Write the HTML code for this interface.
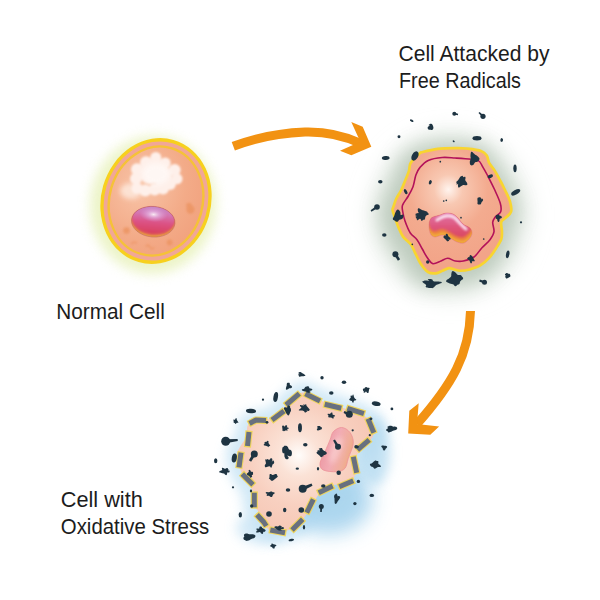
<!DOCTYPE html>
<html><head><meta charset="utf-8"><style>html,body{margin:0;padding:0;background:#fff;width:600px;height:600px;overflow:hidden}svg{display:block}</style></head>
<body><svg width="600" height="600" viewBox="0 0 600 600">
<defs>
<radialGradient id="ncGlow" cx="0.5" cy="0.5" r="0.5">
  <stop offset="0.7" stop-color="#eef4cf"/><stop offset="1" stop-color="#ffffff" stop-opacity="0"/>
</radialGradient>
<radialGradient id="ncIn" cx="0.3" cy="0.4" r="0.8">
  <stop offset="0" stop-color="#f8c4a8"/><stop offset="0.6" stop-color="#f3ab88"/><stop offset="1" stop-color="#f1a07c"/>
</radialGradient>
<linearGradient id="ncNuc" x1="0" y1="0" x2="0" y2="1">
  <stop offset="0" stop-color="#c090d0"/><stop offset="0.35" stop-color="#d478b4"/><stop offset="0.65" stop-color="#dc5284"/><stop offset="1" stop-color="#d8405e"/>
</linearGradient>
<radialGradient id="ncHi" cx="0.5" cy="0.5" r="0.5">
  <stop offset="0" stop-color="#ffffff" stop-opacity="0.85"/><stop offset="0.4" stop-color="#e8c0ec" stop-opacity="0.6"/><stop offset="1" stop-color="#d8a0e0" stop-opacity="0"/>
</radialGradient>
<radialGradient id="atIn" cx="0.47" cy="0.33" r="0.6">
  <stop offset="0" stop-color="#fff4ee"/><stop offset="0.2" stop-color="#f8c8b2"/><stop offset="0.55" stop-color="#f3ab8f"/><stop offset="1" stop-color="#f2a488"/>
</radialGradient>
<linearGradient id="atNuc" x1="0" y1="0" x2="0" y2="1">
  <stop offset="0" stop-color="#e6a0d2"/><stop offset="0.35" stop-color="#e06a9a"/><stop offset="0.7" stop-color="#de5478"/><stop offset="1" stop-color="#da4862"/>
</linearGradient>
<radialGradient id="stIn" cx="0.45" cy="0.45" r="0.6">
  <stop offset="0" stop-color="#fffdfb"/><stop offset="0.25" stop-color="#fbe2d6"/><stop offset="0.6" stop-color="#f8d0c0"/><stop offset="1" stop-color="#f6c6b4"/>
</radialGradient>
<linearGradient id="stNuc" x1="0" y1="0.3" x2="1" y2="0.7">
  <stop offset="0" stop-color="#ea94a0"/><stop offset="0.45" stop-color="#f2acb4"/><stop offset="0.75" stop-color="#f0ae9c"/><stop offset="1" stop-color="#f0a878"/>
</linearGradient>
<filter id="blur6" x="-50%" y="-50%" width="200%" height="200%"><feGaussianBlur stdDeviation="6"/></filter>
<filter id="blur12" x="-50%" y="-50%" width="200%" height="200%"><feGaussianBlur stdDeviation="12"/></filter>
<filter id="blur10" x="-50%" y="-50%" width="200%" height="200%"><feGaussianBlur stdDeviation="10"/></filter>
<filter id="blur3" x="-50%" y="-50%" width="200%" height="200%"><feGaussianBlur stdDeviation="2.5"/></filter>
<filter id="blur1" x="-50%" y="-50%" width="200%" height="200%"><feGaussianBlur stdDeviation="1"/></filter>
</defs>
<ellipse cx="153" cy="205" rx="63" ry="69" fill="#eaf3c2" filter="url(#blur6)" opacity="0.9" transform="rotate(5 153 205)"/>
<g transform="rotate(16 156 201)">
<ellipse cx="156" cy="201" rx="55" ry="63.5" fill="#f7d01e"/>
<ellipse cx="156" cy="201" rx="51.7" ry="60.2" fill="#f1a797"/>
<ellipse cx="156" cy="201" rx="46.6" ry="55.1" fill="url(#ncIn)" stroke="#f5c238" stroke-width="2.4"/>
</g>
<g fill="#ec9564" stroke="#ec9564" stroke-width="1.5" opacity="0.85" filter="url(#blur1)"><circle cx="190.5" cy="209.5" r="3.4"/><circle cx="189" cy="205.5" r="2"/><circle cx="126.5" cy="230.5" r="2.6"/><circle cx="169.7" cy="242.5" r="2.2"/><path d="M131,244 q3,-3 6,-1" fill="none"/><path d="M146,247 q2,-4 4,0 q2,4 4,0" fill="none"/></g>
<ellipse cx="131" cy="191" rx="11" ry="8" fill="#fde4d6" filter="url(#blur3)" opacity="0.95"/>
<g filter="url(#blur1)" fill="#fef0ea"><circle cx="155.8" cy="157.5" r="5.5"/><circle cx="165.2" cy="163" r="5.5"/><circle cx="174.7" cy="170" r="6"/><circle cx="177" cy="178.8" r="5.5"/><circle cx="170" cy="184" r="6"/><circle cx="163" cy="188.5" r="6"/><circle cx="154.7" cy="189.5" r="6"/><circle cx="145.3" cy="190.5" r="6"/><circle cx="137" cy="188.3" r="5.5"/><circle cx="136" cy="178.8" r="6"/><circle cx="137" cy="169.3" r="6"/><circle cx="146" cy="162.3" r="6"/><circle cx="150" cy="174" r="10"/><circle cx="162" cy="176" r="10"/><circle cx="156" cy="167" r="8"/></g>
<g fill="#ffffff" opacity="0.5" filter="url(#blur3)"><ellipse cx="156" cy="174" rx="14" ry="11"/></g>
<g transform="rotate(5 153.2 221.7)">
<clipPath id="ncClip"><ellipse cx="153.2" cy="221.7" rx="21.8" ry="15.3"/></clipPath>
<g clip-path="url(#ncClip)"><ellipse cx="153.2" cy="221.7" rx="21.8" ry="15.3" fill="#e8a440"/><ellipse cx="153.2" cy="219.6" rx="21.8" ry="15.3" fill="#de5a58" filter="url(#blur1)"/><ellipse cx="153.2" cy="218.2" rx="21.8" ry="15.3" fill="url(#ncNuc)" filter="url(#blur1)"/></g>
<ellipse cx="153.2" cy="221.7" rx="21.8" ry="15.3" fill="none" stroke="#b85a58" stroke-width="0.6" opacity="0.8"/>
<ellipse cx="153" cy="214.5" rx="14" ry="7.5" fill="url(#ncHi)"/>
</g>
<ellipse cx="450" cy="215" rx="76" ry="80" fill="#dfe7df" filter="url(#blur12)"/>
<path d="M418.8,152.8 C420.9,151.0 419.2,151.9 422.3,151.1 C425.4,150.3 432.1,148.6 437.5,147.9 C442.9,147.2 450.0,147.2 455.0,147.2 C460.0,147.1 463.1,147.1 467.5,147.6 C471.9,148.1 478.2,148.8 481.5,150.0 C484.8,151.2 485.9,152.6 487.3,154.6 C488.7,156.6 488.3,159.6 489.7,162.2 C491.1,164.8 493.6,167.2 495.5,170.3 C497.4,173.4 499.6,177.5 501.3,180.8 C503.1,184.1 504.4,186.9 506.0,190.2 C507.6,193.5 509.7,197.1 510.7,200.7 C511.7,204.3 512.8,208.8 512.0,211.7 C511.2,214.6 507.7,216.5 506.0,218.3 C504.3,220.1 502.6,220.1 502.0,222.3 C501.4,224.5 502.7,228.8 502.7,231.7 C502.7,234.6 503.0,236.8 502.0,239.7 C501.0,242.6 498.7,245.9 496.7,249.0 C494.7,252.1 492.7,255.4 490.0,258.3 C487.3,261.2 484.0,264.3 480.7,266.3 C477.4,268.3 473.3,269.4 470.0,270.3 C466.7,271.2 463.4,271.7 460.7,271.7 C458.0,271.7 455.9,270.8 454.0,270.3 C452.1,269.9 450.9,268.8 449.0,269.0 C447.1,269.2 444.5,270.8 442.3,271.7 C440.1,272.6 438.1,274.1 435.7,274.3 C433.3,274.5 430.4,274.8 427.7,273.0 C425.0,271.2 421.9,267.0 419.7,263.7 C417.5,260.4 415.9,256.1 414.3,253.0 C412.7,249.9 412.3,247.7 410.3,245.0 C408.3,242.3 404.4,239.9 402.3,237.0 C400.2,234.1 399.0,230.8 397.7,227.7 C396.4,224.6 395.3,221.2 394.3,218.3 C393.3,215.4 392.0,212.3 391.7,210.3 C391.4,208.3 392.0,208.5 392.6,206.5 C393.2,204.5 394.2,201.0 395.5,198.3 C396.8,195.6 398.8,192.9 400.2,190.2 C401.6,187.5 402.3,185.3 403.7,182.0 C405.1,178.7 407.2,173.6 408.3,170.3 C409.4,167.0 408.2,165.1 410.0,162.2 C411.8,159.3 416.8,154.7 418.8,152.8 Z" fill="#a6b8a6" stroke="#a6b8a6" stroke-width="18" stroke-linejoin="round" filter="url(#blur10)" opacity="0.6" transform="translate(-3 4)"/>
<path d="M418.8,152.8 C420.9,151.0 419.2,151.9 422.3,151.1 C425.4,150.3 432.1,148.6 437.5,147.9 C442.9,147.2 450.0,147.2 455.0,147.2 C460.0,147.1 463.1,147.1 467.5,147.6 C471.9,148.1 478.2,148.8 481.5,150.0 C484.8,151.2 485.9,152.6 487.3,154.6 C488.7,156.6 488.3,159.6 489.7,162.2 C491.1,164.8 493.6,167.2 495.5,170.3 C497.4,173.4 499.6,177.5 501.3,180.8 C503.1,184.1 504.4,186.9 506.0,190.2 C507.6,193.5 509.7,197.1 510.7,200.7 C511.7,204.3 512.8,208.8 512.0,211.7 C511.2,214.6 507.7,216.5 506.0,218.3 C504.3,220.1 502.6,220.1 502.0,222.3 C501.4,224.5 502.7,228.8 502.7,231.7 C502.7,234.6 503.0,236.8 502.0,239.7 C501.0,242.6 498.7,245.9 496.7,249.0 C494.7,252.1 492.7,255.4 490.0,258.3 C487.3,261.2 484.0,264.3 480.7,266.3 C477.4,268.3 473.3,269.4 470.0,270.3 C466.7,271.2 463.4,271.7 460.7,271.7 C458.0,271.7 455.9,270.8 454.0,270.3 C452.1,269.9 450.9,268.8 449.0,269.0 C447.1,269.2 444.5,270.8 442.3,271.7 C440.1,272.6 438.1,274.1 435.7,274.3 C433.3,274.5 430.4,274.8 427.7,273.0 C425.0,271.2 421.9,267.0 419.7,263.7 C417.5,260.4 415.9,256.1 414.3,253.0 C412.7,249.9 412.3,247.7 410.3,245.0 C408.3,242.3 404.4,239.9 402.3,237.0 C400.2,234.1 399.0,230.8 397.7,227.7 C396.4,224.6 395.3,221.2 394.3,218.3 C393.3,215.4 392.0,212.3 391.7,210.3 C391.4,208.3 392.0,208.5 392.6,206.5 C393.2,204.5 394.2,201.0 395.5,198.3 C396.8,195.6 398.8,192.9 400.2,190.2 C401.6,187.5 402.3,185.3 403.7,182.0 C405.1,178.7 407.2,173.6 408.3,170.3 C409.4,167.0 408.2,165.1 410.0,162.2 C411.8,159.3 416.8,154.7 418.8,152.8 Z" fill="url(#atIn)" stroke="#f8d530" stroke-width="2.7" transform="translate(452 211) scale(0.985) translate(-452 -211)"/>
<path d="M420.0,167.4 C422.1,165.0 424.5,162.1 428.2,160.4 C431.9,158.8 437.7,157.9 442.2,157.5 C446.7,157.1 451.2,157.8 455.0,158.0 C458.8,158.2 461.4,158.3 465.2,158.7 C469.0,159.1 475.1,159.1 478.0,160.4 C480.9,161.8 481.1,164.4 482.7,166.8 C484.2,169.2 485.4,171.3 487.3,175.0 C489.2,178.7 492.2,184.3 494.3,189.0 C496.4,193.7 499.1,199.2 500.2,203.0 C501.3,206.8 501.5,209.4 500.7,211.7 C499.9,214.0 496.6,215.2 495.3,217.0 C494.0,218.8 492.9,219.9 492.7,222.3 C492.5,224.8 494.4,228.8 494.0,231.7 C493.6,234.6 492.0,237.0 490.0,239.7 C488.0,242.4 484.7,244.8 482.0,247.7 C479.3,250.6 477.1,254.8 474.0,257.0 C470.9,259.2 466.4,260.3 463.3,261.0 C460.2,261.7 457.9,261.4 455.3,261.0 C452.7,260.6 450.1,258.3 447.7,258.3 C445.3,258.3 443.4,260.1 441.0,261.0 C438.6,261.9 435.2,264.1 433.0,263.7 C430.8,263.2 429.5,260.8 427.7,258.3 C425.9,255.9 424.1,252.1 422.3,249.0 C420.5,245.9 419.0,242.4 417.0,239.7 C415.0,237.0 412.3,236.1 410.3,233.0 C408.3,229.9 406.2,224.3 405.0,221.0 C403.8,217.7 403.4,215.6 403.0,213.0 C402.6,210.4 401.6,208.1 402.5,205.3 C403.4,202.5 406.6,199.1 408.3,196.0 C410.1,192.9 411.7,190.2 413.0,186.7 C414.3,183.2 414.7,178.2 415.9,175.0 C417.1,171.8 417.9,169.8 420.0,167.4 Z" fill="none" stroke="#b3125a" stroke-width="1.6"/>
<clipPath id="nucClip"><path d="M430.0,220.0 C430.7,218.5 431.3,217.8 433.0,217.0 C434.7,216.2 437.8,215.7 440.0,215.0 C442.2,214.3 443.8,213.2 446.0,213.0 C448.2,212.8 451.0,213.2 453.0,214.0 C455.0,214.8 456.3,216.3 458.0,218.0 C459.7,219.7 461.0,222.3 463.0,224.0 C465.0,225.7 468.5,226.5 470.0,228.0 C471.5,229.5 472.0,231.3 472.0,233.0 C472.0,234.7 471.3,236.3 470.0,238.0 C468.7,239.7 466.2,242.3 464.0,243.0 C461.8,243.7 459.3,242.8 457.0,242.0 C454.7,241.2 452.3,239.2 450.0,238.0 C447.7,236.8 445.5,235.2 443.0,235.0 C440.5,234.8 437.1,237.2 435.0,237.0 C432.9,236.8 431.5,235.8 430.5,234.0 C429.5,232.2 429.1,228.3 429.0,226.0 C428.9,223.7 429.3,221.5 430.0,220.0 Z"/></clipPath>
<g clip-path="url(#nucClip)"><path d="M430.0,220.0 C430.7,218.5 431.3,217.8 433.0,217.0 C434.7,216.2 437.8,215.7 440.0,215.0 C442.2,214.3 443.8,213.2 446.0,213.0 C448.2,212.8 451.0,213.2 453.0,214.0 C455.0,214.8 456.3,216.3 458.0,218.0 C459.7,219.7 461.0,222.3 463.0,224.0 C465.0,225.7 468.5,226.5 470.0,228.0 C471.5,229.5 472.0,231.3 472.0,233.0 C472.0,234.7 471.3,236.3 470.0,238.0 C468.7,239.7 466.2,242.3 464.0,243.0 C461.8,243.7 459.3,242.8 457.0,242.0 C454.7,241.2 452.3,239.2 450.0,238.0 C447.7,236.8 445.5,235.2 443.0,235.0 C440.5,234.8 437.1,237.2 435.0,237.0 C432.9,236.8 431.5,235.8 430.5,234.0 C429.5,232.2 429.1,228.3 429.0,226.0 C428.9,223.7 429.3,221.5 430.0,220.0 Z" fill="#f0a83a"/><path d="M430.0,220.0 C430.7,218.5 431.3,217.8 433.0,217.0 C434.7,216.2 437.8,215.7 440.0,215.0 C442.2,214.3 443.8,213.2 446.0,213.0 C448.2,212.8 451.0,213.2 453.0,214.0 C455.0,214.8 456.3,216.3 458.0,218.0 C459.7,219.7 461.0,222.3 463.0,224.0 C465.0,225.7 468.5,226.5 470.0,228.0 C471.5,229.5 472.0,231.3 472.0,233.0 C472.0,234.7 471.3,236.3 470.0,238.0 C468.7,239.7 466.2,242.3 464.0,243.0 C461.8,243.7 459.3,242.8 457.0,242.0 C454.7,241.2 452.3,239.2 450.0,238.0 C447.7,236.8 445.5,235.2 443.0,235.0 C440.5,234.8 437.1,237.2 435.0,237.0 C432.9,236.8 431.5,235.8 430.5,234.0 C429.5,232.2 429.1,228.3 429.0,226.0 C428.9,223.7 429.3,221.5 430.0,220.0 Z" fill="#ec8040" transform="translate(0 -3)" filter="url(#blur1)"/><path d="M430.0,220.0 C430.7,218.5 431.3,217.8 433.0,217.0 C434.7,216.2 437.8,215.7 440.0,215.0 C442.2,214.3 443.8,213.2 446.0,213.0 C448.2,212.8 451.0,213.2 453.0,214.0 C455.0,214.8 456.3,216.3 458.0,218.0 C459.7,219.7 461.0,222.3 463.0,224.0 C465.0,225.7 468.5,226.5 470.0,228.0 C471.5,229.5 472.0,231.3 472.0,233.0 C472.0,234.7 471.3,236.3 470.0,238.0 C468.7,239.7 466.2,242.3 464.0,243.0 C461.8,243.7 459.3,242.8 457.0,242.0 C454.7,241.2 452.3,239.2 450.0,238.0 C447.7,236.8 445.5,235.2 443.0,235.0 C440.5,234.8 437.1,237.2 435.0,237.0 C432.9,236.8 431.5,235.8 430.5,234.0 C429.5,232.2 429.1,228.3 429.0,226.0 C428.9,223.7 429.3,221.5 430.0,220.0 Z" fill="url(#atNuc)" transform="translate(-0.5 -6)" filter="url(#blur1)"/>
<path d="M437,220 C443,216 450,214.5 455,218 C459,222 462,226 466,229" fill="none" stroke="#fce8f4" stroke-width="3.2" stroke-linecap="round" filter="url(#blur1)" opacity="0.9"/></g>
<path d="M430.0,220.0 C430.7,218.5 431.3,217.8 433.0,217.0 C434.7,216.2 437.8,215.7 440.0,215.0 C442.2,214.3 443.8,213.2 446.0,213.0 C448.2,212.8 451.0,213.2 453.0,214.0 C455.0,214.8 456.3,216.3 458.0,218.0 C459.7,219.7 461.0,222.3 463.0,224.0 C465.0,225.7 468.5,226.5 470.0,228.0 C471.5,229.5 472.0,231.3 472.0,233.0 C472.0,234.7 471.3,236.3 470.0,238.0 C468.7,239.7 466.2,242.3 464.0,243.0 C461.8,243.7 459.3,242.8 457.0,242.0 C454.7,241.2 452.3,239.2 450.0,238.0 C447.7,236.8 445.5,235.2 443.0,235.0 C440.5,234.8 437.1,237.2 435.0,237.0 C432.9,236.8 431.5,235.8 430.5,234.0 C429.5,232.2 429.1,228.3 429.0,226.0 C428.9,223.7 429.3,221.5 430.0,220.0 Z" fill="none" stroke="#d85878" stroke-width="0.5" opacity="0.6"/>
<path d="M302.2,392.6 C306.9,391.9 311.1,397.0 316.3,399.0 C321.5,401.0 327.6,402.9 333.3,404.8 C339.0,406.7 345.1,408.5 350.3,410.4 C355.5,412.3 360.7,413.7 364.5,416.1 C368.3,418.5 371.6,421.3 373.0,424.6 C374.4,427.9 373.9,433.0 373.0,436.0 C372.1,439.0 370.1,439.3 367.3,442.8 C364.5,446.3 357.9,452.3 356.0,457.0 C354.1,461.7 356.9,466.9 356.0,471.2 C355.1,475.4 354.1,480.1 350.3,482.5 C346.5,484.9 338.0,483.9 333.3,485.3 C328.6,486.7 325.3,488.2 322.0,491.0 C318.7,493.8 316.3,498.1 313.5,502.3 C310.7,506.6 307.8,512.5 305.0,516.5 C302.2,520.5 300.8,523.8 296.5,526.4 C292.2,529.0 284.2,531.6 279.5,532.1 C274.8,532.6 271.0,531.9 268.2,529.3 C265.4,526.7 264.9,520.5 262.5,516.5 C260.1,512.5 255.7,509.4 254.0,505.2 C252.3,500.9 254.0,495.2 252.6,491.0 C251.2,486.8 247.6,483.5 245.5,479.7 C243.4,475.9 241.2,472.6 239.8,468.3 C238.4,464.1 236.5,458.4 237.0,454.2 C237.5,449.9 241.0,445.6 242.7,442.8 C244.4,440.0 246.1,440.3 247.0,437.3 C247.9,434.3 245.7,427.4 248.3,424.6 C250.9,421.8 257.8,421.7 262.5,420.3 C267.2,418.9 272.4,418.9 276.7,416.1 C280.9,413.3 283.8,407.2 288.0,403.3 C292.2,399.4 297.5,393.3 302.2,392.6 Z" fill="#bfe0f3" stroke="#bfe0f3" stroke-width="22" stroke-linejoin="round" filter="url(#blur6)" opacity="0.7"/>
<ellipse cx="328" cy="500" rx="44" ry="34" fill="#a8d4ee" filter="url(#blur10)" opacity="0.95"/>
<ellipse cx="374" cy="452" rx="16" ry="34" fill="#b4daf0" filter="url(#blur6)" opacity="0.8"/>
<ellipse cx="262" cy="528" rx="26" ry="16" fill="#c4e2f4" filter="url(#blur6)" opacity="0.7"/>
<path d="M302.2,392.6 C306.9,391.9 311.1,397.0 316.3,399.0 C321.5,401.0 327.6,402.9 333.3,404.8 C339.0,406.7 345.1,408.5 350.3,410.4 C355.5,412.3 360.7,413.7 364.5,416.1 C368.3,418.5 371.6,421.3 373.0,424.6 C374.4,427.9 373.9,433.0 373.0,436.0 C372.1,439.0 370.1,439.3 367.3,442.8 C364.5,446.3 357.9,452.3 356.0,457.0 C354.1,461.7 356.9,466.9 356.0,471.2 C355.1,475.4 354.1,480.1 350.3,482.5 C346.5,484.9 338.0,483.9 333.3,485.3 C328.6,486.7 325.3,488.2 322.0,491.0 C318.7,493.8 316.3,498.1 313.5,502.3 C310.7,506.6 307.8,512.5 305.0,516.5 C302.2,520.5 300.8,523.8 296.5,526.4 C292.2,529.0 284.2,531.6 279.5,532.1 C274.8,532.6 271.0,531.9 268.2,529.3 C265.4,526.7 264.9,520.5 262.5,516.5 C260.1,512.5 255.7,509.4 254.0,505.2 C252.3,500.9 254.0,495.2 252.6,491.0 C251.2,486.8 247.6,483.5 245.5,479.7 C243.4,475.9 241.2,472.6 239.8,468.3 C238.4,464.1 236.5,458.4 237.0,454.2 C237.5,449.9 241.0,445.6 242.7,442.8 C244.4,440.0 246.1,440.3 247.0,437.3 C247.9,434.3 245.7,427.4 248.3,424.6 C250.9,421.8 257.8,421.7 262.5,420.3 C267.2,418.9 272.4,418.9 276.7,416.1 C280.9,413.3 283.8,407.2 288.0,403.3 C292.2,399.4 297.5,393.3 302.2,392.6 Z" fill="url(#stIn)"/>
<path d="M333.3,431.7 C335.2,429.6 338.9,427.4 341.7,427.5 C344.5,427.6 348.1,429.9 350.0,432.5 C351.9,435.1 353.6,439.0 353.3,443.3 C353.0,447.6 349.7,454.1 348.3,458.3 C346.9,462.5 346.9,466.1 345.0,468.3 C343.1,470.5 340.3,471.4 336.7,471.7 C333.1,472.0 326.1,471.4 323.3,470.0 C320.5,468.6 319.7,466.4 320.0,463.3 C320.3,460.2 323.3,455.6 325.0,451.7 C326.7,447.8 328.6,443.3 330.0,440.0 C331.4,436.7 331.4,433.8 333.3,431.7 Z" fill="url(#stNuc)" stroke="#ec9098" stroke-width="0.8"/>
<ellipse cx="336" cy="450" rx="5" ry="14" fill="#fad0d0" opacity="0.7" filter="url(#blur3)" transform="rotate(20 336 450)"/>
<g fill="none" stroke="#eed45c" stroke-width="7.2" stroke-linejoin="round"><path d="M304.1,393.1 L321.2,401.6"/><path d="M323.4,404.0 L342.6,408.6"/><path d="M346.1,407.9 L365.1,414.0"/><path d="M367.5,417.6 L374.3,434.0"/><path d="M370.2,439.0 L356.5,450.6"/><path d="M353.0,455.4 L357.0,474.0"/><path d="M354.5,480.2 L338.1,487.2"/><path d="M333.9,485.4 L317.5,493.3"/><path d="M313.9,498.1 L306.1,513.9"/><path d="M303.6,518.4 L291.1,530.9"/><path d="M286.3,532.9 L269.0,529.8"/><path d="M267.0,527.1 L263.7,522.0 L256.1,513.7"/><path d="M254.3,508.6 L254.3,491.4"/><path d="M253.9,485.6 L241.4,473.1"/><path d="M238.8,468.6 L241.2,451.4"/><path d="M247.4,447.3 L249.1,430.7"/><path d="M248.4,424.1 L256.0,420.0 L267.3,420.6"/><path d="M271.0,420.8 L285.0,410.2"/><path d="M285.0,405.8 L300.3,392.9"/></g>
<g fill="none" stroke="#68707f" stroke-width="5" stroke-linejoin="round"><path d="M305.3,393.7 L320.0,401.0"/><path d="M324.7,404.3 L341.3,408.3"/><path d="M347.3,408.3 L363.9,413.6"/><path d="M368.0,418.8 L373.8,432.8"/><path d="M369.2,439.8 L357.5,449.8"/><path d="M353.3,456.7 L356.7,472.7"/><path d="M353.3,480.7 L339.3,486.7"/><path d="M332.7,486.0 L318.7,492.7"/><path d="M313.3,499.3 L306.7,512.7"/><path d="M302.7,519.3 L292.0,530.0"/><path d="M285.0,532.7 L270.3,530.0"/><path d="M266.3,526.0 L263.7,522.0 L257.0,514.7"/><path d="M254.3,507.3 L254.3,492.7"/><path d="M253.0,484.7 L242.3,474.0"/><path d="M239.0,467.3 L241.0,452.7"/><path d="M247.5,446.0 L249.0,432.0"/><path d="M249.5,423.5 L256.0,420.0 L266.0,420.5"/><path d="M272.0,420.0 L284.0,411.0"/><path d="M286.0,405.0 L299.3,393.7"/></g>
<g fill="#1e3442"><ellipse transform="translate(411.7 120.7) rotate(30)" rx="1.96" ry="1.01"/><path transform="translate(431 127) rotate(20)" d="M2.4,-0.4C2.9,0.4 2.7,0.3 2.6,1.0C2.5,1.7 2.6,2.0 2.1,2.4C1.6,2.8 1.2,2.5 0.5,2.7C-0.3,2.9 -0.5,3.3 -1.2,3.2C-1.9,3.2 -2.1,3.1 -2.5,2.5C-2.9,1.9 -3.1,1.6 -2.9,0.8C-2.8,0.1 -1.8,-0.3 -1.8,-0.8C-1.8,-1.3 -2.8,-0.8 -2.9,-1.2C-2.9,-1.6 -2.5,-2.1 -2.0,-2.5C-1.6,-3.0 -1.5,-3.1 -0.8,-3.2C-0.2,-3.2 -0.2,-3.2 0.6,-2.6C1.4,-1.9 2.0,-1.3 2.4,-0.4Z"/><ellipse transform="translate(399 136.7) rotate(0)" rx="1.46" ry="1.46"/><ellipse transform="translate(385.7 158) rotate(-5)" rx="3.92" ry="1.96"/><ellipse transform="translate(415 156) rotate(30)" rx="3.08" ry="5.04"/><ellipse transform="translate(440.3 161.7) rotate(0)" rx="0.84" ry="0.84"/><circle cx="454.3" cy="113.7" r="2"/><path d="M454.1,114.6 L457.9,115.2 L458.1,113.8 L454.5,112.8Z"/><circle cx="483" cy="116.3" r="2.6"/><path d="M483.8,115.5 L479.5,112.0 L478.5,113.0 L482.2,117.1Z"/><ellipse transform="translate(477 138.3) rotate(0)" rx="4.48" ry="2.24"/><ellipse transform="translate(453.7 141.3) rotate(40)" rx="1.12" ry="0.84"/><ellipse transform="translate(501.7 140) rotate(10)" rx="1.34" ry="1.90"/><path transform="translate(473.7 159) rotate(0)" d="M3.9,-2.8C4.7,-1.9 5.7,-1.5 5.8,-0.2C5.8,1.1 5.1,1.8 4.1,2.6C3.0,3.4 2.6,2.5 1.5,3.3C0.4,4.1 0.4,5.4 -0.6,6.1C-1.7,6.7 -2.3,6.8 -3.1,6.1C-3.8,5.4 -3.9,4.5 -3.9,3.0C-3.9,1.5 -3.2,1.2 -3.0,-0.3C-2.8,-1.9 -3.4,-2.0 -3.2,-3.6C-3.0,-5.2 -3.1,-6.7 -2.3,-7.2C-1.5,-7.6 -0.9,-6.3 0.2,-5.6C1.2,-4.8 1.2,-4.6 2.1,-4.0C3.0,-3.3 3.0,-3.7 3.9,-2.8Z"/><ellipse transform="translate(380.3 181.7) rotate(0)" rx="2.24" ry="1.68"/><ellipse transform="translate(430.3 182.3) rotate(20)" rx="1.40" ry="2.24"/><ellipse transform="translate(405.7 191.7) rotate(-30)" rx="1.40" ry="2.80"/><circle cx="377" cy="207" r="2.8"/><path d="M376.3,206.0 L370.6,210.3 L371.4,211.7 L377.7,208.0Z"/><path transform="translate(397.7 216.3) rotate(30)" d="M4.0,-4.2C4.7,-4.1 4.9,-3.1 5.2,-2.0C5.4,-1.0 5.4,-0.7 4.9,0.2C4.5,1.2 3.8,1.0 3.2,2.1C2.6,3.2 3.2,4.1 2.4,4.8C1.6,5.6 1.0,5.3 -0.3,5.2C-1.5,5.2 -2.2,5.6 -2.9,4.7C-3.6,3.8 -2.9,3.2 -3.2,1.5C-3.4,-0.2 -3.9,-0.9 -3.9,-2.6C-4.0,-4.3 -4.2,-5.3 -3.3,-5.9C-2.4,-6.5 -1.3,-5.9 -0.1,-5.1C1.2,-4.4 1.0,-2.9 1.9,-2.7C2.9,-2.5 3.2,-4.4 4.0,-4.2Z"/><path transform="translate(421.7 215) rotate(-20)" d="M6.2,-1.3C7.1,-0.3 6.2,-0.6 6.3,0.2C6.5,0.9 7.5,1.3 6.9,1.8C6.2,2.3 4.8,1.5 3.6,2.3C2.3,3.0 2.4,4.4 1.5,5.0C0.7,5.7 0.7,5.0 -0.2,5.1C-1.0,5.3 -1.5,6.1 -2.1,5.6C-2.7,5.1 -1.9,3.5 -2.8,3.0C-3.6,2.5 -5.1,3.8 -5.8,3.5C-6.6,3.3 -5.9,2.6 -6.0,1.8C-6.2,1.1 -6.7,1.1 -6.4,0.4C-6.2,-0.3 -4.8,-0.9 -4.9,-1.2C-5.0,-1.4 -6.6,-0.4 -6.8,-0.6C-7.0,-0.7 -6.0,-1.2 -5.6,-1.9C-5.3,-2.5 -6.0,-3.1 -5.2,-3.3C-4.4,-3.6 -2.9,-2.6 -2.2,-2.9C-1.5,-3.2 -2.6,-3.4 -2.3,-4.5C-2.1,-5.5 -2.0,-7.0 -1.2,-7.3C-0.4,-7.7 0.1,-6.6 1.0,-5.8C1.9,-5.0 1.3,-5.0 2.6,-4.0C3.8,-2.9 5.4,-2.3 6.2,-1.3Z"/><ellipse transform="translate(443.7 201) rotate(0)" rx="0.84" ry="0.84"/><path transform="translate(461.7 181.7) rotate(30)" d="M5.0,-1.8C5.9,-1.1 6.3,-0.9 6.3,-0.2C6.2,0.5 5.5,0.8 4.7,1.3C3.9,1.9 3.7,1.4 2.9,2.2C2.2,3.0 2.1,3.8 1.5,4.8C0.9,5.9 0.9,6.5 0.3,6.6C-0.3,6.8 -0.5,6.2 -1.1,5.5C-1.7,4.8 -1.7,3.7 -2.1,3.6C-2.5,3.5 -2.4,5.0 -2.7,5.1C-3.1,5.1 -3.2,4.4 -3.6,3.8C-4.1,3.2 -4.6,3.4 -4.6,2.7C-4.7,1.9 -4.1,1.8 -3.9,0.5C-3.7,-0.7 -3.8,-1.7 -3.7,-2.9C-3.5,-4.1 -3.6,-3.9 -3.2,-4.5C-2.8,-5.1 -2.8,-5.5 -2.1,-5.5C-1.3,-5.4 -0.5,-4.4 -0.2,-4.3C0.1,-4.2 -1.0,-4.5 -0.8,-4.9C-0.7,-5.3 -0.1,-6.0 0.5,-6.0C1.1,-6.0 1.2,-5.5 1.6,-4.8C2.1,-4.1 1.6,-3.8 2.4,-3.1C3.2,-2.4 4.1,-2.4 5.0,-1.8Z"/><ellipse transform="translate(490.3 176.3) rotate(-20)" rx="2.80" ry="1.68"/><ellipse transform="translate(515 168.3) rotate(0)" rx="1.68" ry="3.92"/><path transform="translate(479.7 201) rotate(0)" d="M2.0,-2.6C2.3,-2.6 3.1,-2.2 3.3,-1.6C3.6,-1.0 3.3,-0.7 2.9,0.0C2.6,0.7 2.4,0.5 1.9,1.3C1.5,2.0 1.6,2.7 1.0,3.2C0.4,3.7 0.2,3.6 -0.6,3.5C-1.3,3.4 -1.7,3.6 -2.1,2.9C-2.5,2.3 -2.1,2.1 -2.1,0.8C-2.1,-0.5 -2.5,-1.7 -2.2,-2.7C-1.9,-3.8 -1.5,-3.5 -0.8,-3.6C-0.1,-3.7 0.3,-3.8 0.9,-3.4C1.4,-2.9 1.5,-1.8 1.7,-1.6C2.0,-1.4 1.6,-2.6 2.0,-2.6Z"/><ellipse transform="translate(515.7 192.3) rotate(-30)" rx="5.04" ry="2.24"/><path transform="translate(498.3 217.7) rotate(0)" d="M2.5,-1.7C3.1,-1.3 3.5,-1.2 3.6,-0.7C3.7,-0.2 3.4,0.2 2.9,0.6C2.3,1.1 1.8,0.6 1.4,1.2C1.0,1.9 1.4,2.7 1.1,3.4C0.8,4.1 0.6,4.5 0.1,4.4C-0.3,4.3 -0.5,3.8 -0.8,3.1C-1.1,2.4 -0.8,2.1 -1.2,1.5C-1.6,1.0 -2.1,1.2 -2.5,0.7C-2.8,0.3 -2.4,0.2 -2.5,-0.3C-2.5,-0.8 -3.0,-1.1 -2.7,-1.6C-2.5,-2.0 -1.7,-1.8 -1.4,-2.1C-1.1,-2.5 -1.6,-2.8 -1.4,-3.0C-1.2,-3.2 -0.9,-2.9 -0.4,-3.0C0.0,-3.1 0.1,-3.7 0.5,-3.5C0.9,-3.3 0.8,-2.6 1.3,-2.2C1.7,-1.7 2.0,-2.0 2.5,-1.7Z"/><ellipse transform="translate(446.3 200.3) rotate(0)" rx="0.84" ry="0.84"/><ellipse transform="translate(461 217.7) rotate(0)" rx="0.84" ry="0.84"/><ellipse transform="translate(521 222.3) rotate(0)" rx="1.12" ry="1.12"/><ellipse transform="translate(384.3 235) rotate(0)" rx="2.24" ry="1.68"/><circle cx="395.4" cy="254.3" r="3"/><path d="M394.3,255.0 L397.9,260.7 L400.1,259.3 L396.5,253.6Z"/><ellipse transform="translate(412.3 244.3) rotate(0)" rx="0.84" ry="0.84"/><ellipse transform="translate(427.7 262) rotate(0)" rx="1.68" ry="1.68"/><path transform="translate(431 283.7) rotate(0)" d="M7.7,-2.2C9.6,-2.0 10.7,-1.9 10.8,-1.3C10.8,-0.7 9.3,-0.4 8.0,0.2C6.7,0.8 6.6,0.3 5.2,1.2C3.9,2.1 3.4,3.4 2.2,4.1C1.0,4.8 1.1,4.2 0.0,4.2C-1.0,4.2 -1.3,4.5 -2.2,4.2C-3.1,3.9 -4.0,2.8 -3.8,2.8C-3.6,2.8 -1.5,3.7 -1.5,4.0C-1.5,4.3 -2.9,4.2 -3.8,3.9C-4.7,3.7 -5.1,3.7 -5.4,3.1C-5.7,2.5 -4.3,2.4 -5.0,1.3C-5.7,0.2 -7.9,-0.6 -8.5,-1.6C-9.0,-2.6 -8.3,-2.4 -7.4,-2.8C-6.6,-3.2 -6.2,-3.2 -4.9,-3.2C-3.6,-3.3 -2.2,-2.7 -1.8,-2.9C-1.4,-3.1 -3.4,-3.8 -3.2,-4.2C-3.0,-4.6 -2.0,-4.7 -1.0,-4.7C0.1,-4.6 0.5,-4.6 1.3,-4.1C2.1,-3.6 1.1,-2.9 2.6,-2.4C4.1,-2.0 5.8,-2.5 7.7,-2.2Z"/><path transform="translate(447 237.7) rotate(0)" d="M3.1,0.0C3.6,0.7 3.8,0.9 3.6,1.3C3.5,1.8 3.2,2.0 2.5,2.1C1.9,2.2 0.9,1.7 0.9,1.9C0.8,2.0 2.1,2.5 2.2,2.9C2.3,3.3 1.7,3.5 1.1,3.6C0.6,3.7 0.4,3.8 -0.1,3.4C-0.6,3.1 -0.4,2.9 -1.1,2.1C-1.8,1.4 -2.7,0.9 -3.3,0.1C-3.8,-0.6 -3.5,-0.5 -3.4,-1.1C-3.3,-1.6 -3.3,-1.9 -2.8,-2.1C-2.3,-2.4 -1.5,-1.9 -1.1,-2.2C-0.8,-2.5 -1.5,-2.9 -1.3,-3.3C-1.0,-3.7 -0.6,-4.0 -0.1,-3.9C0.4,-3.8 0.6,-3.4 0.9,-2.8C1.3,-2.2 0.9,-2.1 1.4,-1.4C1.9,-0.8 2.5,-0.6 3.1,0.0Z"/><path transform="translate(471 259) rotate(0)" d="M3.1,0.5C3.5,1.4 4.0,1.6 3.8,2.0C3.5,2.4 2.7,2.1 1.9,2.2C1.2,2.3 0.9,2.1 0.7,2.3C0.5,2.5 1.3,2.5 1.1,3.0C1.0,3.5 0.6,4.4 0.1,4.5C-0.4,4.5 -0.7,3.7 -1.0,3.0C-1.4,2.3 -1.0,2.1 -1.5,1.5C-1.9,1.0 -2.5,1.1 -3.0,0.6C-3.6,0.1 -3.8,-0.0 -3.8,-0.5C-3.8,-1.1 -3.5,-1.2 -2.9,-1.6C-2.4,-1.9 -1.9,-1.7 -1.6,-2.1C-1.2,-2.5 -1.7,-2.8 -1.3,-3.3C-1.0,-3.7 -0.7,-4.1 -0.2,-4.0C0.4,-3.9 0.4,-3.3 0.9,-2.9C1.4,-2.4 1.3,-2.7 1.8,-2.0C2.3,-1.2 2.6,-0.5 3.1,0.5Z"/><path transform="translate(455.5 279.2) rotate(-30)" d="M6.3,-1.1C7.0,-0.3 6.8,-0.1 6.9,1.0C7.0,2.0 7.7,2.7 6.8,3.4C6.0,4.1 4.6,3.5 3.2,4.1C1.9,4.7 2.2,5.5 1.2,5.9C0.2,6.4 0.1,5.8 -1.1,5.9C-2.2,5.9 -2.8,6.7 -3.7,6.0C-4.5,5.4 -3.9,4.6 -4.8,3.2C-5.8,1.7 -6.8,1.3 -7.7,-0.2C-8.7,-1.7 -9.7,-2.4 -9.0,-3.2C-8.4,-4.1 -6.5,-3.6 -4.9,-3.9C-3.3,-4.3 -3.1,-4.2 -2.3,-4.7C-1.4,-5.2 -2.2,-5.2 -1.4,-6.1C-0.5,-7.0 0.2,-8.6 1.3,-8.5C2.4,-8.5 2.7,-7.1 3.3,-5.8C3.9,-4.4 3.3,-3.8 4.0,-2.8C4.7,-1.7 5.7,-2.0 6.3,-1.1Z"/><circle cx="484.5" cy="282.3" r="2.5"/><path d="M484.9,281.2 L479.8,279.6 L479.2,281.4 L484.1,283.4Z"/><ellipse transform="translate(507.7 254.3) rotate(10)" rx="1.68" ry="3.92"/><path transform="translate(507.7 275.7) rotate(0)" d="M2.1,-1.8C2.5,-1.5 2.3,-1.2 2.5,-0.6C2.6,-0.1 2.9,0.1 2.7,0.6C2.5,1.1 2.4,1.0 1.5,1.6C0.7,2.1 -0.1,2.8 -0.9,2.9C-1.7,3.0 -1.7,2.6 -2.0,2.1C-2.4,1.7 -2.4,1.5 -2.4,0.9C-2.5,0.3 -2.1,-0.0 -2.1,-0.5C-2.2,-1.0 -2.8,-0.7 -2.8,-1.1C-2.7,-1.5 -2.4,-1.8 -1.9,-2.1C-1.4,-2.5 -1.3,-2.6 -0.7,-2.6C-0.1,-2.5 -0.0,-2.1 0.6,-1.9C1.3,-1.8 1.6,-2.1 2.1,-1.8Z"/><ellipse transform="translate(483.7 239) rotate(0)" rx="0.84" ry="0.84"/><ellipse transform="translate(275.7 397) rotate(10)" rx="2.24" ry="5.04"/><ellipse transform="translate(263 399.7) rotate(0)" rx="1.12" ry="1.12"/><ellipse transform="translate(251 411) rotate(5)" rx="5.04" ry="2.24"/><path transform="translate(235.7 421) rotate(0)" d="M2.0,0.3C2.4,0.9 2.8,1.2 2.7,1.5C2.7,1.8 2.1,1.6 1.6,1.7C1.2,1.8 1.2,1.7 0.9,1.9C0.6,2.1 0.7,2.3 0.4,2.5C0.2,2.8 0.1,3.0 -0.1,3.0C-0.4,3.0 -0.5,2.8 -0.7,2.5C-0.9,2.2 -0.9,1.8 -1.1,1.7C-1.3,1.6 -1.3,2.1 -1.5,2.0C-1.7,2.0 -1.8,1.8 -2.0,1.5C-2.1,1.2 -2.2,1.2 -2.2,0.8C-2.1,0.4 -1.8,0.0 -1.7,-0.2C-1.7,-0.4 -1.8,0.1 -2.0,-0.1C-2.1,-0.2 -2.4,-0.6 -2.4,-0.9C-2.3,-1.2 -2.3,-1.4 -1.9,-1.5C-1.5,-1.6 -1.2,-1.1 -0.8,-1.3C-0.4,-1.6 -0.4,-2.3 -0.1,-2.6C0.2,-2.8 0.2,-2.5 0.5,-2.5C0.7,-2.5 1.0,-2.8 1.1,-2.5C1.3,-2.2 0.9,-1.9 1.1,-1.2C1.3,-0.5 1.6,-0.3 2.0,0.3Z"/><ellipse transform="translate(267 422.3) rotate(0)" rx="1.40" ry="1.40"/><path transform="translate(301.3 374.6) rotate(0)" d="M3.0,-0.2C3.8,0.3 4.3,0.6 4.2,1.0C4.0,1.4 3.2,1.4 2.3,1.6C1.4,1.8 1.4,1.6 0.5,1.7C-0.5,1.8 -1.2,2.2 -1.9,2.1C-2.6,1.9 -2.2,1.5 -2.5,1.0C-2.8,0.6 -3.4,0.6 -3.2,0.2C-3.1,-0.2 -1.9,-0.3 -1.8,-0.6C-1.8,-1.0 -3.0,-0.9 -3.1,-1.3C-3.2,-1.7 -2.8,-2.1 -2.1,-2.3C-1.5,-2.6 -1.1,-2.5 -0.3,-2.3C0.4,-2.1 0.3,-1.8 1.1,-1.3C1.9,-0.9 2.3,-0.8 3.0,-0.2Z"/><ellipse transform="translate(322 377.7) rotate(0)" rx="1.68" ry="1.68"/><ellipse transform="translate(344 382.3) rotate(0)" rx="2.24" ry="1.68"/><path transform="translate(288.7 386.3) rotate(0)" d="M2.4,-0.8C2.9,-0.3 3.5,0.2 3.4,0.8C3.3,1.5 2.7,1.7 2.1,1.9C1.4,2.2 1.2,1.7 0.5,1.9C-0.1,2.1 -0.0,2.6 -0.8,2.9C-1.5,3.2 -2.1,3.6 -2.6,3.2C-3.0,2.8 -2.8,2.0 -2.6,1.1C-2.5,0.3 -2.3,0.4 -2.0,-0.6C-1.8,-1.6 -2.1,-2.3 -1.7,-3.0C-1.3,-3.7 -1.0,-3.5 -0.4,-3.6C0.2,-3.6 0.5,-3.8 0.9,-3.2C1.3,-2.7 0.9,-1.8 1.3,-1.2C1.6,-0.6 1.9,-1.2 2.4,-0.8Z"/><path transform="translate(307.3 389.7) rotate(0)" d="M4.7,-0.8C5.3,-0.5 5.0,-0.3 4.9,0.1C4.8,0.5 4.8,0.6 4.1,0.9C3.4,1.2 2.3,1.0 2.1,1.2C1.9,1.5 3.2,1.6 3.2,2.0C3.2,2.5 2.9,3.0 2.2,3.1C1.5,3.3 1.0,3.1 0.1,2.8C-0.7,2.5 -0.7,2.2 -1.5,1.9C-2.4,1.6 -2.7,1.7 -3.5,1.5C-4.3,1.3 -4.6,1.3 -5.0,0.9C-5.4,0.5 -5.7,0.3 -5.3,-0.1C-4.9,-0.5 -4.0,-0.3 -3.2,-0.9C-2.4,-1.5 -2.7,-2.1 -2.0,-2.6C-1.3,-3.2 -1.2,-3.2 -0.3,-3.3C0.5,-3.4 1.0,-3.4 1.6,-2.9C2.2,-2.5 1.5,-1.9 2.2,-1.4C3.0,-0.9 4.1,-1.2 4.7,-0.8Z"/><ellipse transform="translate(331.3 393) rotate(0)" rx="2.24" ry="1.68"/><path transform="translate(352.7 399) rotate(0)" d="M2.4,-0.3C3.0,0.3 3.6,0.4 3.6,0.8C3.6,1.2 3.0,1.2 2.5,1.5C2.0,1.7 1.8,1.5 1.4,1.8C1.1,2.1 1.2,2.2 0.9,2.7C0.7,3.2 0.7,3.8 0.4,3.9C0.0,4.0 -0.1,3.4 -0.4,3.0C-0.7,2.6 -0.4,2.4 -1.0,2.0C-1.5,1.6 -2.1,1.7 -2.6,1.4C-3.2,1.0 -3.5,1.0 -3.5,0.5C-3.5,0.1 -3.1,-0.1 -2.7,-0.5C-2.4,-0.9 -2.2,-1.0 -2.0,-1.3C-1.8,-1.6 -2.1,-1.5 -2.1,-1.9C-2.1,-2.4 -2.2,-2.9 -2.0,-3.2C-1.7,-3.5 -1.5,-3.4 -1.0,-3.2C-0.5,-3.0 -0.1,-2.5 -0.0,-2.5C0.1,-2.4 -0.5,-2.5 -0.4,-2.9C-0.4,-3.4 0.0,-4.3 0.4,-4.4C0.7,-4.5 0.8,-3.8 1.0,-3.2C1.3,-2.6 1.0,-2.5 1.4,-1.8C1.7,-1.2 1.9,-0.9 2.4,-0.3Z"/><path transform="translate(288 410.3) rotate(0)" d="M2.9,-2.3C3.0,-2.1 2.9,-1.4 2.9,-0.8C2.9,-0.1 3.1,-0.0 3.0,0.6C2.8,1.2 2.6,1.1 2.2,1.9C1.8,2.8 1.8,3.6 1.3,4.3C0.8,5.1 0.6,5.2 0.1,5.1C-0.4,5.0 -0.5,4.5 -1.0,3.9C-1.4,3.3 -1.3,3.5 -1.9,2.6C-2.4,1.7 -2.6,1.0 -3.2,-0.1C-3.7,-1.1 -4.2,-1.3 -4.1,-2.1C-4.0,-2.8 -3.5,-2.9 -2.8,-3.1C-2.0,-3.3 -1.6,-2.6 -1.0,-2.9C-0.4,-3.2 -0.7,-4.0 -0.3,-4.4C0.2,-4.9 0.4,-4.9 0.9,-4.8C1.5,-4.7 1.7,-4.7 2.0,-4.0C2.4,-3.3 2.1,-2.1 2.2,-1.7C2.4,-1.4 2.7,-2.5 2.9,-2.3Z"/><path transform="translate(304.7 408.3) rotate(0)" d="M4.6,0.6C5.3,1.6 5.0,1.3 4.9,1.8C4.7,2.3 4.6,2.5 3.9,2.7C3.2,2.9 2.0,2.4 1.8,2.6C1.6,2.7 3.0,3.1 3.0,3.3C3.0,3.5 2.2,3.4 1.6,3.6C1.0,3.8 0.9,4.4 0.3,4.2C-0.3,4.0 -0.2,3.2 -1.1,2.8C-2.0,2.3 -2.4,2.4 -3.6,2.2C-4.7,2.0 -5.6,2.3 -5.9,1.9C-6.1,1.5 -5.2,1.0 -4.6,0.4C-4.0,-0.2 -3.5,-0.1 -3.4,-0.6C-3.3,-1.1 -4.0,-1.1 -4.3,-1.7C-4.6,-2.3 -5.0,-3.0 -4.5,-3.3C-4.1,-3.6 -3.3,-3.2 -2.4,-3.1C-1.5,-3.0 -0.9,-2.6 -0.7,-2.8C-0.5,-2.9 -1.6,-3.7 -1.5,-3.9C-1.4,-4.1 -0.7,-3.4 -0.1,-3.5C0.6,-3.5 0.9,-4.3 1.4,-4.0C1.9,-3.8 1.3,-3.3 2.0,-2.3C2.8,-1.2 3.9,-0.3 4.6,0.6Z"/><path transform="translate(331.3 415.7) rotate(0)" d="M3.5,-0.7C3.9,-0.4 3.3,-0.3 3.3,0.1C3.3,0.5 3.6,0.6 3.3,0.9C3.0,1.2 2.1,1.0 1.9,1.3C1.7,1.5 2.5,1.5 2.5,1.9C2.6,2.3 2.5,2.6 2.1,2.8C1.7,2.9 1.4,2.8 0.9,2.6C0.4,2.4 0.7,2.2 -0.2,1.9C-1.0,1.6 -2.1,1.7 -2.8,1.5C-3.4,1.2 -2.8,1.1 -2.9,0.7C-3.0,0.4 -3.3,0.4 -3.2,0.0C-3.1,-0.3 -2.5,-0.5 -2.5,-0.7C-2.5,-0.9 -2.9,-0.4 -3.2,-0.7C-3.5,-0.9 -3.9,-1.5 -3.6,-1.8C-3.4,-2.0 -2.7,-1.8 -2.1,-1.8C-1.5,-1.9 -1.4,-1.9 -1.1,-2.0C-0.7,-2.2 -1.0,-2.3 -0.7,-2.5C-0.4,-2.8 -0.2,-3.2 0.2,-3.2C0.7,-3.3 0.9,-3.2 1.2,-2.8C1.4,-2.4 0.8,-1.8 1.3,-1.3C1.8,-0.8 3.0,-1.0 3.5,-0.7Z"/><circle cx="349.3" cy="414.3" r="3.5"/><path d="M349.9,412.9 L344.4,411.0 L343.6,413.0 L348.7,415.7Z"/><ellipse transform="translate(300 427.7) rotate(0)" rx="1.96" ry="4.48"/><path transform="translate(319.3 428.3) rotate(0)" d="M1.9,-1.4C2.1,-1.2 2.5,-1.0 2.6,-0.6C2.8,-0.2 2.7,-0.1 2.5,0.4C2.3,0.8 2.3,0.9 1.6,1.3C0.9,1.6 0.3,1.8 -0.5,2.0C-1.3,2.2 -1.5,2.3 -2.0,2.0C-2.4,1.8 -2.5,1.5 -2.4,0.9C-2.4,0.4 -1.8,0.5 -1.7,-0.2C-1.6,-0.8 -2.2,-1.3 -2.0,-1.8C-1.8,-2.3 -1.4,-2.2 -0.8,-2.3C-0.2,-2.4 0.0,-2.5 0.6,-2.3C1.1,-2.0 1.2,-1.4 1.5,-1.2C1.8,-1.0 1.6,-1.5 1.9,-1.4Z"/><path transform="translate(284.7 428.3) rotate(0)" d="M2.8,-0.9C3.3,-0.8 4.0,-0.7 4.2,-0.4C4.3,-0.0 3.7,0.1 3.3,0.5C2.8,0.8 2.3,0.9 2.3,1.1C2.3,1.3 3.1,1.2 3.1,1.4C3.2,1.7 3.1,2.0 2.7,2.2C2.3,2.4 2.1,2.2 1.5,2.2C1.0,2.2 1.0,2.1 0.5,2.2C-0.1,2.4 -0.2,2.8 -0.7,2.9C-1.2,2.9 -1.1,2.6 -1.5,2.4C-1.9,2.2 -2.2,2.4 -2.4,2.1C-2.5,1.8 -2.2,1.8 -2.2,0.9C-2.3,0.0 -2.6,-1.0 -2.6,-1.8C-2.5,-2.6 -2.5,-2.4 -2.1,-2.6C-1.7,-2.8 -1.5,-2.8 -1.0,-2.6C-0.5,-2.4 -0.3,-1.7 0.1,-1.8C0.5,-1.9 0.3,-2.6 0.7,-2.9C1.1,-3.2 1.4,-3.2 1.8,-3.0C2.3,-2.9 2.4,-2.8 2.5,-2.3C2.5,-1.7 2.0,-1.2 2.1,-0.9C2.1,-0.6 2.3,-1.1 2.8,-0.9Z"/><ellipse transform="translate(352.7 430.3) rotate(0)" rx="1.12" ry="1.12"/><path transform="translate(366.3 389.7) rotate(0)" d="M2.7,-2.0C3.2,-1.9 3.3,-1.7 3.4,-1.4C3.4,-1.0 3.1,-0.8 2.9,-0.4C2.7,-0.0 2.8,-0.2 2.7,0.4C2.6,1.0 2.5,1.6 2.3,2.2C2.1,2.9 2.3,3.2 1.8,3.3C1.4,3.4 1.1,3.1 0.5,2.7C0.0,2.4 -0.1,1.9 -0.4,1.9C-0.8,1.8 -0.5,2.3 -0.9,2.5C-1.4,2.8 -1.9,3.1 -2.3,3.0C-2.7,2.8 -2.8,2.5 -2.7,2.0C-2.7,1.4 -2.0,1.1 -2.1,0.7C-2.3,0.3 -3.1,0.5 -3.4,0.2C-3.6,-0.1 -3.4,-0.2 -3.2,-0.6C-3.1,-0.9 -3.2,-1.0 -2.8,-1.2C-2.4,-1.4 -1.9,-1.2 -1.5,-1.4C-1.2,-1.7 -1.6,-2.1 -1.4,-2.4C-1.2,-2.6 -0.9,-2.4 -0.5,-2.5C-0.1,-2.6 -0.1,-2.9 0.3,-2.8C0.7,-2.7 0.6,-2.2 1.2,-2.0C1.7,-1.9 2.2,-2.2 2.7,-2.0Z"/><ellipse transform="translate(376.2 403.7) rotate(10)" rx="4.48" ry="2.24"/><ellipse transform="translate(391.9 408.9) rotate(0)" rx="1.40" ry="1.40"/><ellipse transform="translate(371 418.8) rotate(0)" rx="1.40" ry="1.40"/><path transform="translate(391.3 429.3) rotate(0)" d="M2.8,-2.8C3.6,-2.7 4.8,-2.7 5.4,-2.1C6.1,-1.4 6.2,-0.8 5.5,0.0C4.8,0.8 4.3,0.6 2.5,1.3C0.6,2.0 -0.8,3.0 -2.3,3.2C-3.7,3.3 -3.1,2.6 -3.7,2.0C-4.4,1.4 -5.3,1.3 -5.2,0.6C-5.1,-0.2 -3.4,-0.5 -3.2,-1.2C-2.9,-1.9 -4.3,-1.8 -4.1,-2.3C-3.9,-2.8 -3.2,-3.1 -2.3,-3.3C-1.3,-3.6 -1.1,-3.7 -0.1,-3.5C0.9,-3.3 1.4,-2.7 2.0,-2.5C2.7,-2.4 2.0,-2.9 2.8,-2.8Z"/><path transform="translate(384.3 447.4) rotate(0)" d="M2.0,-1.4C2.6,-1.1 2.7,-1.0 2.8,-0.6C2.9,-0.2 2.7,-0.0 2.4,0.4C2.1,0.8 1.8,0.8 1.5,1.2C1.2,1.6 1.5,1.6 1.1,2.0C0.7,2.4 0.4,3.0 -0.2,3.0C-0.8,3.0 -1.0,2.5 -1.4,2.0C-1.7,1.5 -1.4,1.3 -1.8,0.7C-2.1,0.2 -2.5,0.2 -2.8,-0.3C-3.0,-0.8 -3.2,-1.1 -2.9,-1.5C-2.6,-1.9 -2.1,-1.9 -1.4,-1.9C-0.7,-1.9 -0.7,-1.8 0.1,-1.7C0.9,-1.6 1.4,-1.7 2.0,-1.4Z"/><ellipse transform="translate(357.5 446.8) rotate(0)" rx="1.40" ry="1.40"/><ellipse transform="translate(369.8 435.2) rotate(0)" rx="1.12" ry="1.12"/><circle cx="225.7" cy="441.3" r="4.5"/><path d="M225.9,443.3 L237.8,441.1 L237.6,438.9 L225.5,439.3Z"/><ellipse transform="translate(215.7 460.7) rotate(0)" rx="1.68" ry="2.52"/><path transform="translate(225 471.3) rotate(0)" d="M4.5,-0.8C4.7,-0.7 4.6,-0.3 4.6,0.1C4.5,0.5 4.7,0.7 4.2,1.0C3.7,1.3 2.8,1.0 2.3,1.3C1.8,1.7 2.3,1.9 2.1,2.5C1.9,3.1 2.0,3.6 1.5,3.8C1.0,4.0 0.6,3.6 0.0,3.2C-0.6,2.9 -0.0,2.6 -1.1,2.2C-2.1,1.8 -3.2,1.8 -4.3,1.4C-5.3,1.1 -5.6,1.1 -5.7,0.6C-5.8,0.2 -5.4,-0.0 -4.8,-0.5C-4.1,-0.9 -3.3,-0.7 -2.9,-1.1C-2.5,-1.5 -3.1,-1.6 -3.0,-2.2C-3.0,-2.7 -3.3,-3.4 -2.9,-3.6C-2.4,-3.8 -1.8,-3.3 -1.1,-3.1C-0.4,-2.8 -0.5,-2.5 0.3,-2.5C1.1,-2.6 1.6,-3.2 2.2,-3.2C2.9,-3.2 2.7,-2.8 3.0,-2.4C3.4,-2.0 3.5,-2.1 3.6,-1.6C3.7,-1.2 3.3,-0.7 3.5,-0.5C3.7,-0.3 4.2,-1.0 4.5,-0.8Z"/><ellipse transform="translate(234.3 458) rotate(10)" rx="2.52" ry="4.48"/><circle cx="254.3" cy="454" r="3.5"/><path d="M253.0,453.2 L248.9,460.3 L251.1,461.7 L255.6,454.8Z"/><path transform="translate(267 444) rotate(0)" d="M2.5,0.5C2.9,1.2 3.3,1.5 3.2,1.8C3.0,2.2 2.5,2.2 2.0,2.1C1.4,2.1 0.7,1.8 0.8,1.7C0.9,1.6 2.1,1.6 2.4,1.7C2.6,1.9 2.0,2.0 1.8,2.3C1.6,2.7 1.7,3.2 1.3,3.2C1.0,3.1 1.1,2.6 0.2,2.2C-0.7,1.8 -1.8,1.9 -2.6,1.5C-3.4,1.2 -3.4,1.1 -3.3,0.7C-3.3,0.3 -2.9,0.1 -2.5,-0.3C-2.1,-0.7 -1.6,-0.9 -1.7,-1.0C-1.8,-1.1 -2.8,-0.6 -2.9,-0.7C-3.1,-0.8 -2.6,-1.1 -2.4,-1.4C-2.1,-1.8 -2.3,-2.0 -1.9,-2.1C-1.6,-2.3 -1.4,-1.7 -0.9,-2.0C-0.3,-2.3 -0.1,-3.0 0.3,-3.3C0.8,-3.5 0.8,-3.2 1.1,-3.0C1.3,-2.8 1.5,-2.8 1.6,-2.4C1.7,-1.9 1.3,-1.7 1.5,-1.1C1.7,-0.4 2.1,-0.1 2.5,0.5Z"/><path transform="translate(269 463.3) rotate(0)" d="M4.1,-2.7C4.6,-2.8 4.9,-2.1 5.1,-1.5C5.3,-0.8 5.3,-0.5 4.9,0.2C4.4,0.8 3.7,1.0 3.3,1.5C3.0,2.0 3.5,1.8 3.3,2.3C3.2,2.7 3.1,2.9 2.8,3.4C2.5,3.9 2.6,4.5 2.0,4.4C1.5,4.4 1.5,3.1 0.3,3.0C-0.8,2.9 -1.9,4.0 -3.0,4.0C-4.0,4.1 -3.8,3.7 -4.1,3.1C-4.3,2.6 -4.3,2.3 -4.0,1.5C-3.8,0.8 -3.2,1.1 -3.1,-0.1C-3.0,-1.3 -3.9,-2.8 -3.7,-3.6C-3.5,-4.5 -2.8,-3.6 -2.2,-3.7C-1.6,-3.9 -1.7,-4.4 -1.2,-4.3C-0.7,-4.2 -0.5,-3.2 0.1,-3.3C0.8,-3.4 0.8,-4.4 1.5,-4.7C2.1,-5.0 2.5,-5.0 2.9,-4.7C3.4,-4.3 3.4,-3.9 3.3,-3.0C3.3,-2.2 2.6,-1.1 2.8,-1.1C2.9,-1.0 3.6,-2.6 4.1,-2.7Z"/><ellipse transform="translate(283.7 450) rotate(0)" rx="1.57" ry="3.36"/><path transform="translate(250.3 474) rotate(0)" d="M2.4,-2.1C2.9,-1.8 2.7,-1.4 2.7,-0.8C2.8,-0.2 2.9,-0.0 2.7,0.5C2.4,1.0 1.7,0.8 1.5,1.4C1.3,1.9 2.0,2.3 1.9,2.7C1.8,3.2 1.4,3.0 1.0,3.2C0.6,3.5 0.6,4.0 0.2,3.8C-0.2,3.7 -0.0,3.1 -0.7,2.5C-1.3,1.9 -1.9,1.8 -2.5,1.3C-3.2,0.7 -3.4,0.6 -3.4,-0.0C-3.4,-0.6 -3.0,-0.8 -2.4,-1.2C-1.9,-1.6 -1.4,-1.3 -1.2,-1.7C-1.1,-2.2 -1.8,-2.6 -1.8,-3.2C-1.7,-3.7 -1.4,-4.0 -1.0,-4.1C-0.6,-4.2 -0.4,-4.0 0.1,-3.6C0.5,-3.2 0.3,-2.6 0.8,-2.3C1.4,-1.9 2.0,-2.5 2.4,-2.1Z"/><path transform="translate(273 477.3) rotate(0)" d="M3.5,-2.4C3.8,-2.7 4.0,-2.0 4.3,-1.6C4.6,-1.2 5.0,-1.2 4.8,-0.7C4.6,-0.2 4.6,-0.4 3.6,0.4C2.5,1.3 1.5,2.3 0.4,3.0C-0.6,3.7 -0.2,3.5 -0.8,3.5C-1.4,3.6 -1.6,3.6 -2.0,3.2C-2.4,2.8 -2.4,2.0 -2.5,1.9C-2.6,1.7 -2.3,2.7 -2.5,2.7C-2.6,2.7 -2.7,2.2 -3.1,1.9C-3.5,1.6 -4.0,1.8 -4.1,1.3C-4.2,0.9 -3.7,0.9 -3.6,0.2C-3.4,-0.6 -3.6,-1.2 -3.5,-2.0C-3.4,-2.7 -3.6,-2.8 -3.2,-3.1C-2.8,-3.4 -2.4,-3.4 -1.7,-3.1C-0.9,-2.9 -1.0,-2.2 -0.1,-2.2C0.9,-2.2 1.5,-3.1 2.4,-3.2C3.4,-3.3 3.4,-3.2 3.8,-2.8C4.2,-2.5 4.3,-2.3 4.2,-1.7C4.0,-1.1 3.4,-0.2 3.2,-0.4C3.1,-0.5 3.2,-2.1 3.5,-2.4Z"/><ellipse transform="translate(233 487.3) rotate(0)" rx="1.12" ry="1.12"/><ellipse transform="translate(251 490.7) rotate(0)" rx="1.12" ry="1.12"/><path transform="translate(270.3 494) rotate(0)" d="M2.7,-1.8C3.2,-1.9 3.7,-1.7 4.1,-1.4C4.4,-1.1 4.5,-1.0 4.2,-0.6C4.0,-0.1 3.5,-0.4 2.9,0.4C2.3,1.1 2.3,2.2 1.8,2.8C1.2,3.4 1.1,3.0 0.6,2.9C0.1,2.9 -0.0,2.8 -0.4,2.5C-0.9,2.2 -0.8,1.9 -1.3,1.7C-1.7,1.6 -1.9,1.9 -2.5,1.9C-3.0,1.8 -3.3,1.8 -3.6,1.5C-3.9,1.3 -3.8,1.1 -3.6,0.7C-3.5,0.3 -2.8,0.1 -2.9,-0.2C-3.0,-0.5 -3.8,-0.2 -4.1,-0.5C-4.5,-0.9 -4.8,-1.2 -4.5,-1.6C-4.3,-2.0 -4.0,-2.0 -3.2,-2.1C-2.4,-2.1 -2.2,-1.6 -1.3,-1.7C-0.3,-1.8 0.1,-2.3 0.9,-2.4C1.6,-2.6 1.5,-2.4 1.8,-2.3C2.2,-2.1 2.4,-2.1 2.5,-1.7C2.6,-1.4 2.1,-0.7 2.2,-0.7C2.2,-0.7 2.3,-1.6 2.7,-1.8Z"/><path transform="translate(286.7 452) rotate(0)" d="M4.5,-1.5C5.2,-0.4 5.3,0.3 5.2,1.7C5.0,3.0 4.8,3.9 3.8,4.3C2.8,4.7 1.2,3.1 0.8,3.5C0.3,3.9 2.2,5.1 2.0,6.0C1.8,6.9 0.8,7.5 -0.2,7.3C-1.1,7.1 -1.5,6.5 -2.0,5.2C-2.5,3.9 -2.2,4.2 -2.4,1.8C-2.6,-0.6 -3.3,-3.2 -3.0,-5.0C-2.7,-6.9 -1.9,-6.1 -1.0,-6.2C-0.1,-6.3 0.2,-6.1 0.9,-5.3C1.7,-4.6 1.4,-3.7 2.2,-2.8C3.0,-1.9 3.8,-2.5 4.5,-1.5Z"/><ellipse transform="translate(305.3 444.7) rotate(0)" rx="2.24" ry="1.68"/><path transform="translate(321.3 452.7) rotate(0)" d="M4.6,-1.0C5.5,-0.2 5.6,0.0 5.4,0.7C5.2,1.5 4.7,1.6 3.9,2.1C3.2,2.5 2.4,2.4 2.0,2.7C1.7,3.0 2.7,3.0 2.5,3.3C2.2,3.6 1.8,3.5 1.2,3.9C0.5,4.2 0.4,4.8 -0.2,4.6C-0.9,4.4 -0.6,4.1 -1.6,3.1C-2.7,2.1 -4.2,1.4 -4.7,0.4C-5.2,-0.6 -4.2,-0.4 -3.9,-1.0C-3.6,-1.7 -4.0,-2.1 -3.5,-2.4C-2.9,-2.7 -1.6,-2.1 -1.4,-2.5C-1.2,-2.8 -2.6,-3.5 -2.5,-4.0C-2.4,-4.4 -1.7,-4.3 -1.0,-4.5C-0.3,-4.6 -0.1,-5.0 0.6,-4.6C1.2,-4.2 0.7,-3.5 1.7,-2.7C2.6,-1.8 3.8,-1.8 4.6,-1.0Z"/><circle cx="338" cy="446.7" r="3"/><path d="M339.2,446.0 L334.9,439.5 L333.1,440.5 L336.8,447.4Z"/><ellipse transform="translate(297.3 468.7) rotate(0)" rx="1.68" ry="1.12"/><ellipse transform="translate(318 468.7) rotate(0)" rx="1.12" ry="1.68"/><ellipse transform="translate(338.7 472.7) rotate(0)" rx="2.24" ry="2.24"/><circle cx="302.7" cy="488.7" r="4"/><path d="M303.4,490.4 L312.5,485.8 L311.5,483.6 L302.0,487.0Z"/><ellipse transform="translate(288 490) rotate(0)" rx="2.24" ry="1.68"/><ellipse transform="translate(323.3 486) rotate(0)" rx="2.24" ry="1.68"/><ellipse transform="translate(356 446.7) rotate(0)" rx="1.68" ry="1.68"/><ellipse transform="translate(336 496.7) rotate(0)" rx="1.68" ry="1.68"/><path transform="translate(375.3 464.5) rotate(0)" d="M4.4,0.2C5.0,0.9 5.9,1.3 5.7,1.9C5.5,2.4 4.4,2.2 3.4,2.5C2.5,2.7 1.7,2.7 1.6,2.9C1.4,3.2 3.1,3.5 2.9,3.6C2.8,3.7 1.8,3.2 1.0,3.4C0.1,3.5 0.0,4.4 -0.7,4.3C-1.4,4.1 -1.4,3.2 -2.2,2.7C-2.9,2.1 -3.3,2.4 -4.0,2.0C-4.6,1.5 -4.7,1.5 -5.0,0.9C-5.3,0.3 -5.6,0.1 -5.2,-0.5C-4.7,-1.0 -4.3,-0.7 -3.1,-1.5C-1.8,-2.3 -1.1,-3.5 0.0,-3.9C1.1,-4.4 0.9,-3.6 1.6,-3.4C2.3,-3.2 2.8,-3.5 3.1,-2.9C3.5,-2.4 2.7,-1.8 3.0,-1.1C3.2,-0.3 3.8,-0.5 4.4,0.2Z"/><ellipse transform="translate(358.4 481.4) rotate(0)" rx="1.68" ry="1.68"/><ellipse transform="translate(371.8 495.4) rotate(0)" rx="2.24" ry="1.68"/><ellipse transform="translate(354.9 503.6) rotate(0)" rx="1.68" ry="1.68"/><ellipse transform="translate(240.3 514.7) rotate(0)" rx="1.68" ry="2.80"/><ellipse transform="translate(269 514) rotate(0)" rx="2.80" ry="2.80"/><path transform="translate(261 530) rotate(0)" d="M4.5,-0.1C5.2,0.5 4.4,0.4 4.3,0.8C4.1,1.2 4.4,1.4 3.9,1.7C3.4,1.9 2.5,1.7 2.2,1.9C1.8,2.2 2.4,2.3 2.2,2.8C2.1,3.2 2.0,3.8 1.4,3.9C0.9,4.0 0.5,3.7 -0.0,3.3C-0.6,2.8 -0.3,2.2 -1.0,2.0C-1.8,1.9 -2.3,2.5 -3.2,2.6C-4.1,2.6 -4.7,2.6 -4.9,2.2C-5.1,1.8 -4.4,1.3 -3.9,0.8C-3.5,0.2 -3.0,-0.1 -3.0,-0.2C-3.1,-0.3 -3.8,0.4 -4.1,0.4C-4.4,0.3 -4.4,-0.1 -4.4,-0.5C-4.5,-1.0 -4.8,-1.3 -4.3,-1.5C-3.7,-1.7 -2.5,-1.1 -1.9,-1.4C-1.3,-1.8 -1.9,-2.5 -1.5,-3.0C-1.2,-3.5 -1.0,-3.5 -0.4,-3.5C0.1,-3.5 0.3,-3.5 0.8,-3.1C1.2,-2.8 0.6,-2.6 1.5,-1.9C2.3,-1.1 3.9,-0.7 4.5,-0.1Z"/><path transform="translate(249 536.7) rotate(0)" d="M4.7,-2.2C6.1,-1.8 6.3,-1.4 6.4,-0.6C6.5,0.2 6.2,0.6 5.2,1.3C4.3,1.9 4.0,1.6 2.4,2.2C0.8,2.9 -0.0,3.9 -1.6,4.1C-3.1,4.4 -3.4,4.0 -4.3,3.4C-5.2,2.8 -5.6,2.5 -5.6,1.6C-5.6,0.7 -4.6,-0.1 -4.4,-0.6C-4.2,-1.1 -4.8,-0.2 -4.9,-0.6C-4.9,-1.1 -5.3,-1.9 -4.7,-2.5C-4.1,-3.1 -3.5,-3.2 -2.3,-3.1C-1.1,-3.1 -1.2,-2.6 0.4,-2.4C2.0,-2.2 3.3,-2.6 4.7,-2.2Z"/><path transform="translate(273 546) rotate(0)" d="M2.5,-1.2C3.0,-1.0 3.3,-0.9 3.4,-0.6C3.4,-0.2 3.0,-0.1 2.6,0.3C2.2,0.6 1.9,0.5 1.7,0.9C1.5,1.3 1.9,1.5 1.7,1.9C1.5,2.3 1.3,2.4 0.9,2.5C0.4,2.6 0.2,2.6 -0.2,2.3C-0.6,2.0 -0.4,1.7 -0.9,1.3C-1.4,0.9 -2.1,0.9 -2.5,0.6C-3.0,0.2 -2.9,0.2 -2.9,-0.2C-2.8,-0.5 -2.7,-0.6 -2.3,-0.8C-2.0,-1.1 -1.4,-1.0 -1.3,-1.2C-1.2,-1.3 -1.8,-1.3 -1.8,-1.5C-1.8,-1.8 -1.6,-2.2 -1.2,-2.4C-0.9,-2.5 -0.6,-2.3 -0.1,-2.1C0.3,-1.9 0.2,-1.9 0.8,-1.7C1.4,-1.5 1.9,-1.5 2.5,-1.2Z"/><path transform="translate(279 528) rotate(0)" d="M3.7,-1.0C4.3,-0.9 4.9,-0.5 5.0,-0.1C5.0,0.4 4.8,0.7 4.0,1.0C3.2,1.3 2.0,0.9 1.7,1.2C1.4,1.5 2.9,1.9 2.8,2.2C2.8,2.6 2.1,2.5 1.5,2.6C0.8,2.7 0.8,2.7 0.1,2.5C-0.5,2.4 -0.3,2.7 -1.2,2.1C-2.2,1.5 -3.0,0.8 -3.8,0.1C-4.6,-0.6 -4.7,-0.6 -4.6,-1.0C-4.4,-1.5 -4.0,-1.6 -3.2,-1.7C-2.3,-1.8 -1.9,-1.4 -1.1,-1.5C-0.3,-1.7 -0.2,-2.3 0.4,-2.4C1.0,-2.6 1.0,-2.4 1.5,-2.3C2.1,-2.1 2.4,-2.2 2.7,-1.8C2.9,-1.5 2.2,-0.8 2.5,-0.6C2.7,-0.4 3.2,-1.1 3.7,-1.0Z"/><ellipse transform="translate(251.7 506) rotate(0)" rx="1.68" ry="1.68"/><ellipse transform="translate(251 491.3) rotate(0)" rx="1.12" ry="1.12"/><path transform="translate(336.7 498.7) rotate(0)" d="M1.8,-2.6C2.4,-2.5 3.4,-2.4 3.5,-1.6C3.7,-0.8 3.0,-0.1 2.4,0.7C1.9,1.6 1.9,1.1 1.3,2.1C0.7,3.0 0.5,4.1 -0.2,4.8C-1.0,5.4 -1.4,5.4 -1.8,4.8C-2.2,4.2 -2.0,3.3 -2.1,2.2C-2.2,1.0 -2.2,1.2 -2.2,-0.1C-2.3,-1.3 -2.6,-2.0 -2.4,-3.0C-2.2,-4.1 -1.9,-4.1 -1.3,-4.5C-0.8,-4.9 -0.5,-5.4 0.1,-4.9C0.6,-4.3 0.6,-2.7 1.0,-2.2C1.4,-1.7 1.2,-2.8 1.8,-2.6Z"/><circle cx="321.3" cy="506.5" r="2.5"/><path d="M320.2,506.4 L320.2,512.0 L321.8,512.0 L322.4,506.6Z"/><ellipse transform="translate(301.3 510) rotate(0)" rx="2.80" ry="2.80"/><ellipse transform="translate(284.7 510) rotate(0)" rx="1.68" ry="2.24"/><ellipse transform="translate(304 527.3) rotate(0)" rx="1.12" ry="2.24"/><ellipse transform="translate(291.3 540) rotate(-10)" rx="2.80" ry="1.23"/></g>
<path d="M233.3,146.3 C255,138 280,133 305,132 C325,131.5 345,136 361,143.5" fill="none" stroke="#f29212" stroke-width="9"/>
<polygon points="351.3,122 362.7,126.7 371.3,146.7 351.3,155.3 340,150.7 360.3,141.7" fill="#f29212"/>
<path d="M470.5,311 C470,330 466,350 456.5,369 C450,382 440,398 417,424" fill="none" stroke="#f29212" stroke-width="9"/>
<polygon points="418.7,403.3 409.3,410.8 408.2,433.6 430.3,434.8 439.1,426.6 417,424" fill="#f29212"/>
<text x="398.5" y="60.5" font-family="Liberation Sans" font-size="22" fill="#1c1c1c" textLength="151" lengthAdjust="spacingAndGlyphs">Cell Attacked by</text>
<text x="399" y="87.6" font-family="Liberation Sans" font-size="22" fill="#1c1c1c" textLength="122" lengthAdjust="spacingAndGlyphs">Free Radicals</text>
<text x="56.3" y="318.9" font-family="Liberation Sans" font-size="22" fill="#1c1c1c" textLength="108.5" lengthAdjust="spacingAndGlyphs">Normal Cell</text>
<text x="60.8" y="507.1" font-family="Liberation Sans" font-size="22" fill="#1c1c1c" textLength="82" lengthAdjust="spacingAndGlyphs">Cell with</text>
<text x="60.8" y="533.9" font-family="Liberation Sans" font-size="22" fill="#1c1c1c" textLength="148.5" lengthAdjust="spacingAndGlyphs">Oxidative Stress</text>
</svg></body></html>
